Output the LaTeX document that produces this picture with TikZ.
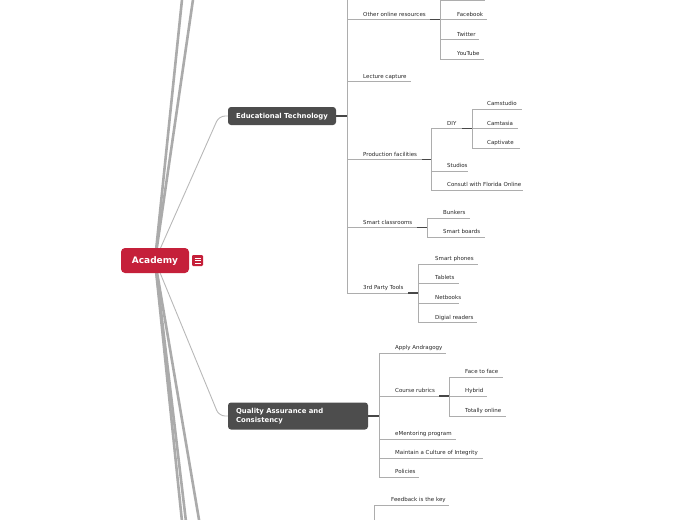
\documentclass[tikz,border=0pt]{standalone}
\usepackage{fontspec}
\setmainfont{DejaVu Sans}
\usetikzlibrary{backgrounds}
\definecolor{acad}{HTML}{C5203A}
\definecolor{topicgray}{HTML}{4D4D4D}
\newcommand\mkid[7]{%
  \node[kid] (#1) at (#3,#4) {\makebox[#5pt][l]{\hspace*{#6pt}#7}};
  \draw[branch] (#2) |- (#1.south west) -- (#1.south east);}
\begin{document}
\begin{tikzpicture}[x=1pt,y=-1pt,
  kid/.style={anchor=south west, inner xsep=0pt, inner ysep=1.0pt, text height=4pt, text depth=1.9pt, font=\fontsize{5.5}{6.5}\selectfont, text=black!85},
  branch/.style={draw=black!32, line width=0.8pt},
  darkseg/.style={draw=black!72, line width=1.1pt},
  trunk/.style={draw=black!33, line width=2.6pt},
  twig/.style={draw=black!28, line width=0.9pt, rounded corners=6pt},
  topic/.style={fill=topicgray, rounded corners=3pt, text=white, font=\bfseries\fontsize{6.9}{9}\selectfont, inner sep=0pt}]
\useasboundingbox (0,0) rectangle (697,520);
\clip (0,0) rectangle (697,520);

% central node
\node[fill=acad, rounded corners=4pt, minimum width=68pt, minimum height=25pt, inner sep=0pt, text height=6.6pt, text depth=0pt, text=white, font=\bfseries\fontsize{9}{10}\selectfont] (acad) at (155,260.5) {Academy};
\node[fill=acad, rounded corners=1.2pt, minimum size=11pt, inner sep=0pt] (icon) at (197.5,260.5) {};
\foreach \dy in {-2.4,0,2.4}
  \draw[white, line width=0.6pt] ([xshift=-3pt,yshift=\dy pt]icon.center) -- ([xshift=3pt,yshift=\dy pt]icon.center);

% main topics
\node[topic, minimum width=108pt, minimum height=18pt, text height=5pt, text depth=0.5pt] (et) at (282,116) {Educational Technology};
\node[topic, minimum width=140pt, minimum height=27pt, align=left, text width=124pt] (qa) at (298,416) {Quality Assurance and\\Consistency};

% off-picture ends and bends
\coordinate (up1) at (183,-10);
\coordinate (up2) at (194.4,-10);
\coordinate (dn1) at (182.9,530);
\coordinate (dn2) at (187,530);
\coordinate (dn3) at (200.75,530);
\coordinate (etbend) at (219,116);
\coordinate (qabend) at (219,416);

\begin{scope}[on background layer]
  \draw[trunk] (acad.center) -- (up1);
  \draw[trunk] (acad.center) -- (up2);
  \draw[trunk] (acad.center) -- (dn1);
  \draw[trunk] (acad.center) -- (dn2);
  \draw[trunk] (acad.center) -- (dn3);
  \draw[twig] (acad.center) -- (etbend) -- (et.west);
  \draw[twig] (acad.center) -- (qabend) -- (qa.west);
\end{scope}

% Educational Technology branch
\coordinate (etj) at (347,116);
\coordinate (ettop) at (347,-1);
\draw[darkseg] (et.east) -- (etj);
\draw[branch] (etj) -- (ettop);

\coordinate (oorj) at (440,19.3);
\coordinate (oortop) at (485,0.3);
\mkid{oor}{etj}{347}{19.3}{83}{16}{Other online resources}
\draw[darkseg] (oor.south east) -- (oorj);
\draw[branch] (oorj) |- (oortop);
\mkid{fbk}{oorj}{440}{19.3}{47}{17}{Facebook}
\mkid{twt}{oorj}{440}{39.3}{39}{17}{Twitter}
\mkid{ytb}{oorj}{440}{59}{44}{17}{YouTube}

\mkid{lec}{etj}{347}{81.7}{64}{16}{Lecture capture}

\coordinate (pfj) at (431,159.3);
\coordinate (diyj) at (472,128.3);
\mkid{pf}{etj}{347}{159.3}{75}{16}{Production facilities}
\draw[darkseg] (pf.south east) -- (pfj);
\mkid{diy}{pfj}{431}{128.3}{31}{16}{DIY}
\draw[darkseg] (diy.south east) -- (diyj);
\mkid{cst}{diyj}{472}{109}{50}{15}{Camstudio}
\mkid{cta}{diyj}{472}{128.3}{46}{15}{Camtasia}
\mkid{cpt}{diyj}{472}{148}{48}{15}{Captivate}
\mkid{std}{pfj}{431}{171}{37}{16}{Studios}
\mkid{cfo}{pfj}{431}{190}{92}{16}{Consutl with Florida Online}

\coordinate (scj) at (427,227.3);
\mkid{sc}{etj}{347}{227.3}{70}{16}{Smart classrooms}
\draw[darkseg] (sc.south east) -- (scj);
\mkid{bnk}{scj}{427}{218}{43}{16}{Bunkers}
\mkid{sbd}{scj}{427}{237}{58}{16}{Smart boards}

\coordinate (tptj) at (418,293);
\mkid{tpt}{etj}{347}{293}{61}{16}{3rd Party Tools}
\draw[darkseg] (tpt.south east) -- (tptj);
\mkid{sph}{tptj}{418}{264}{60}{17}{Smart phones}
\mkid{tab}{tptj}{418}{283}{41}{17}{Tablets}
\mkid{nbk}{tptj}{418}{303}{41}{17}{Netbooks}
\mkid{dgr}{tptj}{418}{322.7}{59}{17}{Digial readers}

% Quality Assurance branch
\coordinate (qaj) at (379,416);
\draw[darkseg] (qa.east) -- (qaj);
\mkid{aa}{qaj}{379}{353}{67}{16}{Apply Andragogy}
\coordinate (crj) at (449,396);
\mkid{cr}{qaj}{379}{396}{60}{16}{Course rubrics}
\draw[darkseg] (cr.south east) -- (crj);
\mkid{f2f}{crj}{449}{377}{54}{16}{Face to face}
\mkid{hyb}{crj}{449}{396}{38}{16}{Hybrid}
\mkid{tol}{crj}{449}{416}{57}{16}{Totally online}
\mkid{emp}{qaj}{379}{439}{77}{16}{eMentoring program}
\mkid{mci}{qaj}{379}{458}{104}{16}{Maintain a Culture of Integrity}
\mkid{pol}{qaj}{379}{477}{40}{16}{Policies}

% partly visible branch at the bottom
\coordinate (fbj) at (374,525);
\mkid{fdb}{fbj}{374}{505}{75}{17}{Feedback is the key}
\end{tikzpicture}
\end{document}
